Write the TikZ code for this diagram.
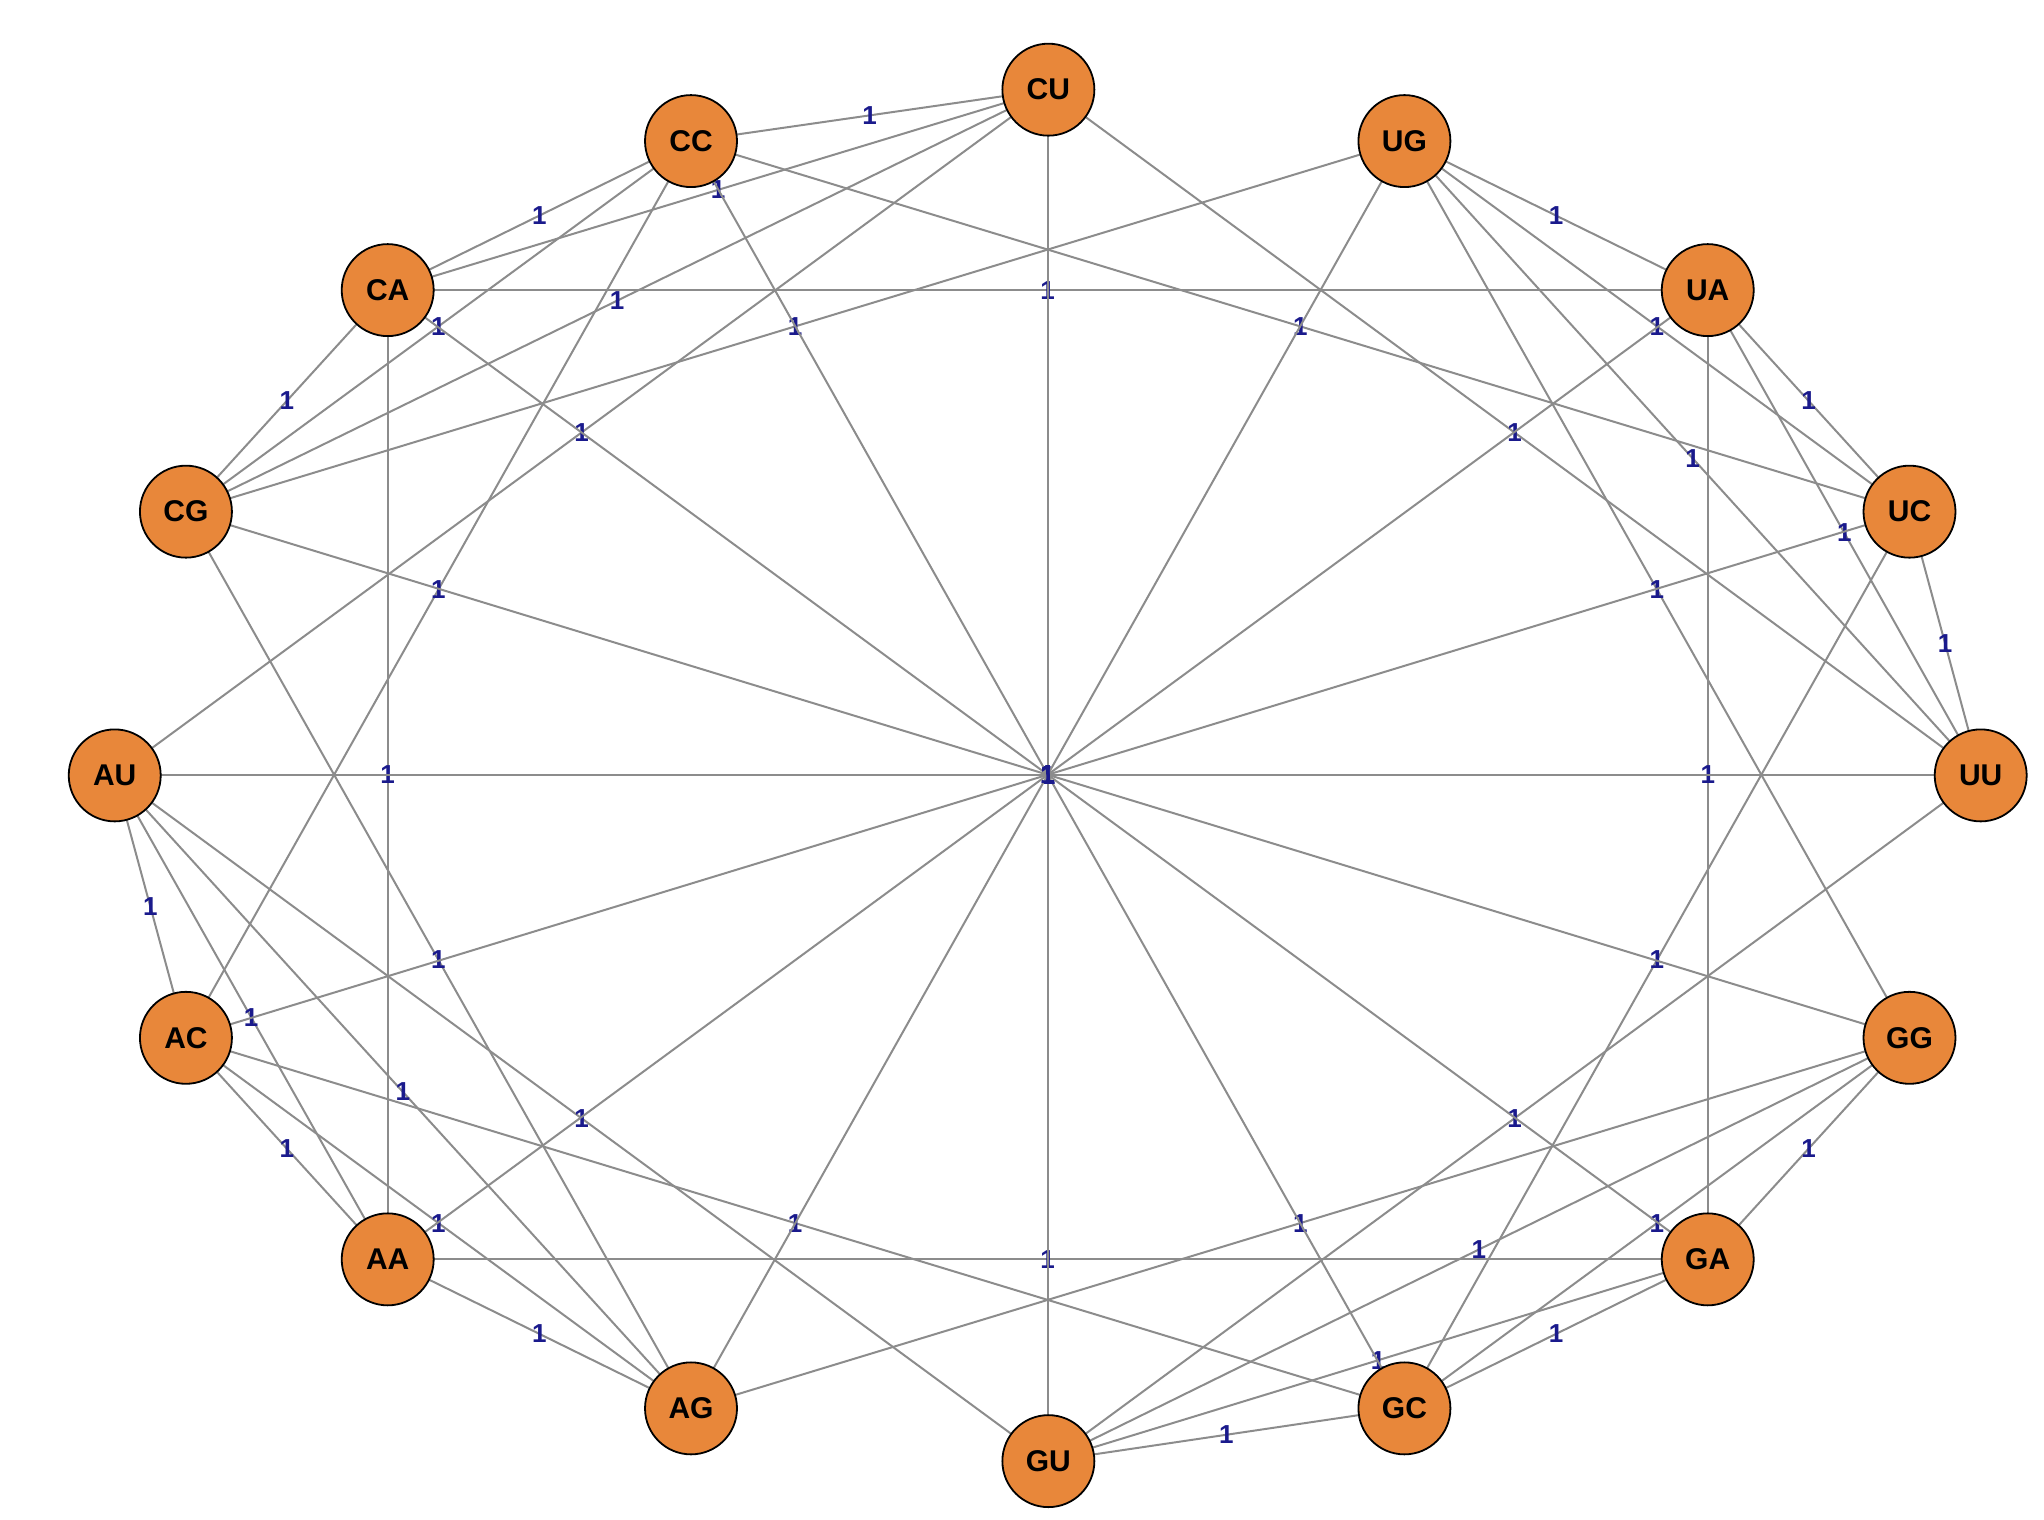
\documentclass[tikz,border=0pt]{standalone}
\usepackage{fontspec}
\setmainfont{Liberation Sans}
\definecolor{nodeor}{HTML}{E8873A}
\definecolor{edgegray}{HTML}{8C8C8C}
\definecolor{lblblue}{HTML}{1A1A8C}
\begin{document}
\begin{tikzpicture}[x=0.6595pt,y=-0.6595pt,
  vert/.style={circle,draw=black,line width=0.9pt,fill=nodeor,minimum size=46pt,inner sep=0pt,font=\fontsize{15}{15}\selectfont\bfseries},
  edge/.style={draw=edgegray,line width=1pt},
  lbl/.style={font=\fontsize{13}{13}\selectfont\bfseries,text=lblblue,inner sep=0pt}]
\useasboundingbox (0,0) rectangle (1550,1152.5);
\foreach \n/\x/\y in {CU/795/68,CC/524/107,UG/1065/107,CA/294/220,UA/1295/220,CG/141/388,UC/1448/388,AU/87/588,UU/1502/588,AC/141/787,GG/1448/787,AA/294/955,GA/1295/955,AG/524/1068,GC/1065/1068,GU/795/1108}
  \coordinate (\n) at (\x,\y);
\foreach \a/\b in {CC/CU,CC/CA,CU/CA,CA/UA,CU/CG,CC/CG,UG/CG,CA/CG,CU/AU,CC/AC,CA/AA,UG/UA,CC/UC,UG/UC,UA/UC,CU/UU,UG/UU,UA/UU,UG/GG,UC/UU,UA/GA,AU/AC,AU/AA,CG/AG,AU/AG,AC/AA,AU/GU,AC/AG,AC/GC,AA/AG,AA/GA,AG/GG,GU/GG,UU/GU,UC/GC,GC/GG,GG/GA,GA/GU,GA/GC,GU/GC,CU/GU,CC/GC,CA/GA,CG/GG,AU/UU,AC/UC,AA/UA,AG/UG}
  \draw[edge] (\a) -- node[lbl]{1} (\b);
\foreach \n in {CU,CC,UG,CA,UA,CG,UC,AU,UU,AC,GG,AA,GA,AG,GC,GU}
  \node[vert] (n\n) at (\n) {\n};
\end{tikzpicture}
\end{document}
